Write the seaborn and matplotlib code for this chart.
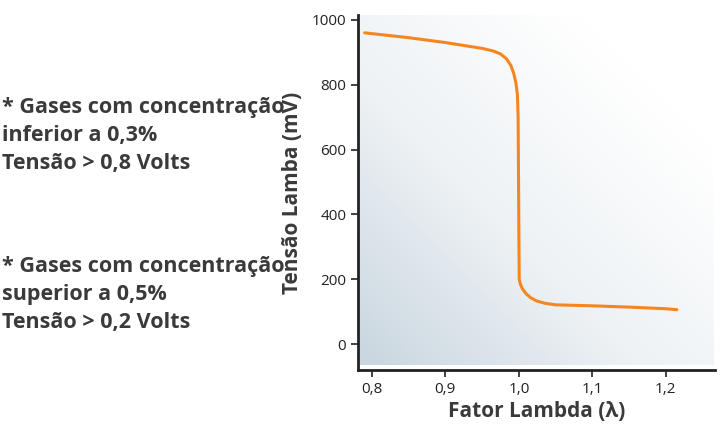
import numpy as np
import matplotlib
matplotlib.use("Agg")
import matplotlib.pyplot as plt
import seaborn as sns
from matplotlib.colors import LinearSegmentedColormap

lam = [0.79, 0.85, 0.90, 0.95, 0.965, 0.975, 0.983, 0.989, 0.993, 0.996, 0.998, 0.999, 1.0, 1.0, 1.0, 1.0005,
       1.002, 1.005, 1.01, 1.016, 1.024, 1.035, 1.05, 1.1, 1.15, 1.2, 1.215]
mv = [960, 945, 930, 912, 904, 895, 880, 860, 835, 805, 770, 700, 500, 300, 215, 200,
      185, 170, 155, 143, 133, 126, 121, 118, 114, 109, 106]
xticks = [0.8, 0.9, 1.0, 1.1, 1.2]
yticks = [0, 200, 400, 600, 800, 1000]
notes = ["* Gases com concentração\ninferior a 0,3%\nTensão > 0,8 Volts",
         "* Gases com concentração\nsuperior a 0,5%\nTensão > 0,2 Volts"]

sns.set_theme(style="white")
plt.rcParams['font.family'] = ['Open Sans', 'DejaVu Sans']
fig = plt.figure(figsize=(7.2, 4.25), dpi=100)
ax = fig.add_axes([358/720, 1-370/425, 357/720, 355/425])
xlim = (0.781, 1.267); ylim = (-80, 1015)
gx, gy = np.meshgrid(np.linspace(0, 1, 200), np.linspace(0, 1, 200))
g = np.clip((gx + gy) / 1.6, 0, 1)
cm = LinearSegmentedColormap.from_list("bg", ["#c9d6df", "#eef2f5", "#ffffff"])
ax.imshow(g, extent=(0.783, 1.265, -65, 1030), origin="lower", cmap=cm, aspect="auto", zorder=0)
sns.lineplot(x=lam, y=mv, ax=ax, color="#f5861f", lw=2.2, sort=False, zorder=2)
ax.set_xlim(*xlim); ax.set_ylim(*ylim)
ax.set_xticks(xticks); ax.set_xticklabels([f"{t:.1f}".replace(".", ",") for t in xticks])
ax.set_yticks(yticks)
ax.tick_params(axis="both", length=5, width=1.2, colors="#222", labelsize=11, direction="out",
               bottom=True, left=True)
for s in ["top", "right"]:
    ax.spines[s].set_visible(False)
for s in ["left", "bottom"]:
    ax.spines[s].set_color("#222"); ax.spines[s].set_linewidth(2)
ax.set_xlabel("Fator Lambda (λ)", fontsize=15, fontweight="bold", color="#3a3a3a", labelpad=3)
ax.set_ylabel("Tensão Lamba (mV)", fontsize=15, fontweight="bold", color="#3a3a3a", labelpad=6)
fig.text(2/720, 1-97/425, notes[0], fontsize=15.5, fontweight="bold", color="#3a3a3a", va="top", linespacing=1.45)
fig.text(2/720, 1-256/425, notes[1], fontsize=15.5, fontweight="bold", color="#3a3a3a", va="top", linespacing=1.45)
fig.savefig("out.png", dpi=100)
